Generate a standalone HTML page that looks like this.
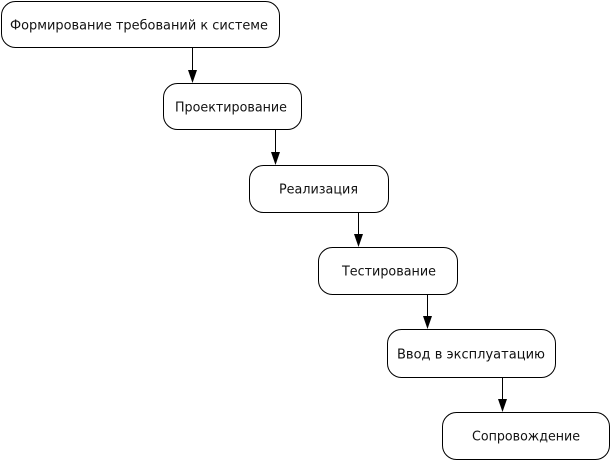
<!DOCTYPE html>
<html><head><meta charset="utf-8"><style>
html,body{margin:0;padding:0;background:#fff;width:611px;height:460px;overflow:hidden}
text{font-family:"DejaVu Sans","Liberation Sans",sans-serif;font-size:13.5px;fill:#111}
</style></head><body>
<svg width="611" height="460" xmlns="http://www.w3.org/2000/svg">
<g fill="#fff" stroke="#000" stroke-width="1">
<rect x="1.5" y="1.5" width="278" height="46" rx="14"/>
<rect x="163.5" y="83.5" width="138" height="46" rx="14"/>
<rect x="249.5" y="165.5" width="139" height="47" rx="14"/>
<rect x="318.5" y="247.5" width="139" height="47" rx="14"/>
<rect x="387.5" y="329.5" width="168" height="48" rx="14"/>
<rect x="442.5" y="412.5" width="167" height="47" rx="14"/>
</g>
<g stroke="#000" stroke-width="1">
<line x1="192.5" y1="48" x2="192.5" y2="72"/>
<line x1="275.5" y1="130" x2="275.5" y2="154"/>
<line x1="358.5" y1="213" x2="358.5" y2="236"/>
<line x1="427.5" y1="295" x2="427.5" y2="318"/>
<line x1="502.5" y1="378" x2="502.5" y2="401"/>
</g>
<g fill="#000">
<polygon points="188,70 197,70 192.5,83"/>
<polygon points="271,152 280,152 275.5,165"/>
<polygon points="354,234 363,234 358.5,247"/>
<polygon points="423,316 432,316 427.5,329"/>
<polygon points="498,399 507,399 502.5,412"/>
</g>
<text x="10" y="29.5" textLength="258" lengthAdjust="spacingAndGlyphs">Формирование требований к системе</text>
<text x="175" y="111.5" textLength="112" lengthAdjust="spacingAndGlyphs">Проектирование</text>
<text x="279" y="193.5" textLength="79" lengthAdjust="spacingAndGlyphs">Реализация</text>
<text x="342" y="275.5" textLength="94" lengthAdjust="spacingAndGlyphs">Тестирование</text>
<text x="397" y="358.5" textLength="148" lengthAdjust="spacingAndGlyphs">Ввод в эксплуатацию</text>
<text x="472" y="440.5" textLength="108" lengthAdjust="spacingAndGlyphs">Сопровождение</text>
</svg>
</body></html>
